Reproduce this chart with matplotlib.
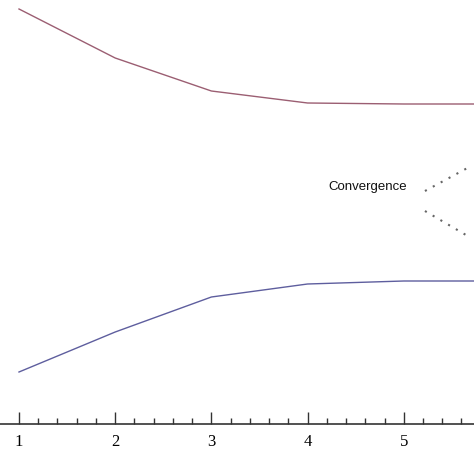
import matplotlib.pyplot as plt
from matplotlib.ticker import MultipleLocator

# iterations and the two bounds (axis line is at 0)
iters = [1, 2, 3, 4, 5, 5.75]
upper = [4.15, 3.66, 3.33, 3.21, 3.20, 3.20]
lower = [0.52, 0.92, 1.27, 1.40, 1.43, 1.43]

# dotted "convergence" guides
conv_x = [5.22, 5.70]
conv_up = [2.33, 2.58]
conv_lo = [2.13, 1.86]

fig = plt.figure(figsize=(4.74, 4.74), dpi=100)
ax = fig.add_axes([0, 0, 1, 1])

ax.plot(iters, upper, color='#9b5e72', lw=1.0)
ax.plot(iters, lower, color='#5e5e9e', lw=1.0)

ax.plot(conv_x, conv_up, color='#666666', lw=1.5, linestyle=(0, (1, 3.3)))
ax.plot(conv_x, conv_lo, color='#666666', lw=1.5, linestyle=(0, (1, 3.3)))
ax.text(4.62, 2.37, 'Convergence', fontsize=9.5, family='Liberation Sans',
        ha='center', va='center', color='#111111')

ax.set_xlim(0.8025, 5.73)
ax.set_ylim(-0.5, 4.24)

for s in ['top', 'left', 'right']:
    ax.spines[s].set_visible(False)
ax.spines['bottom'].set_position(('data', 0))
ax.spines['bottom'].set_color('#333333')
ax.spines['bottom'].set_linewidth(1.2)

ax.xaxis.set_major_locator(MultipleLocator(1))
ax.xaxis.set_minor_locator(MultipleLocator(0.2))
ax.tick_params(axis='x', which='major', direction='in', length=9, width=1, color='#333333', pad=7)
ax.tick_params(axis='x', which='minor', direction='in', length=4.5, width=1, color='#333333')
ax.set_yticks([])
for lab in ax.get_xticklabels():
    lab.set_family('Liberation Serif')
    lab.set_fontsize(12)

fig.savefig('out.png', dpi=100)
